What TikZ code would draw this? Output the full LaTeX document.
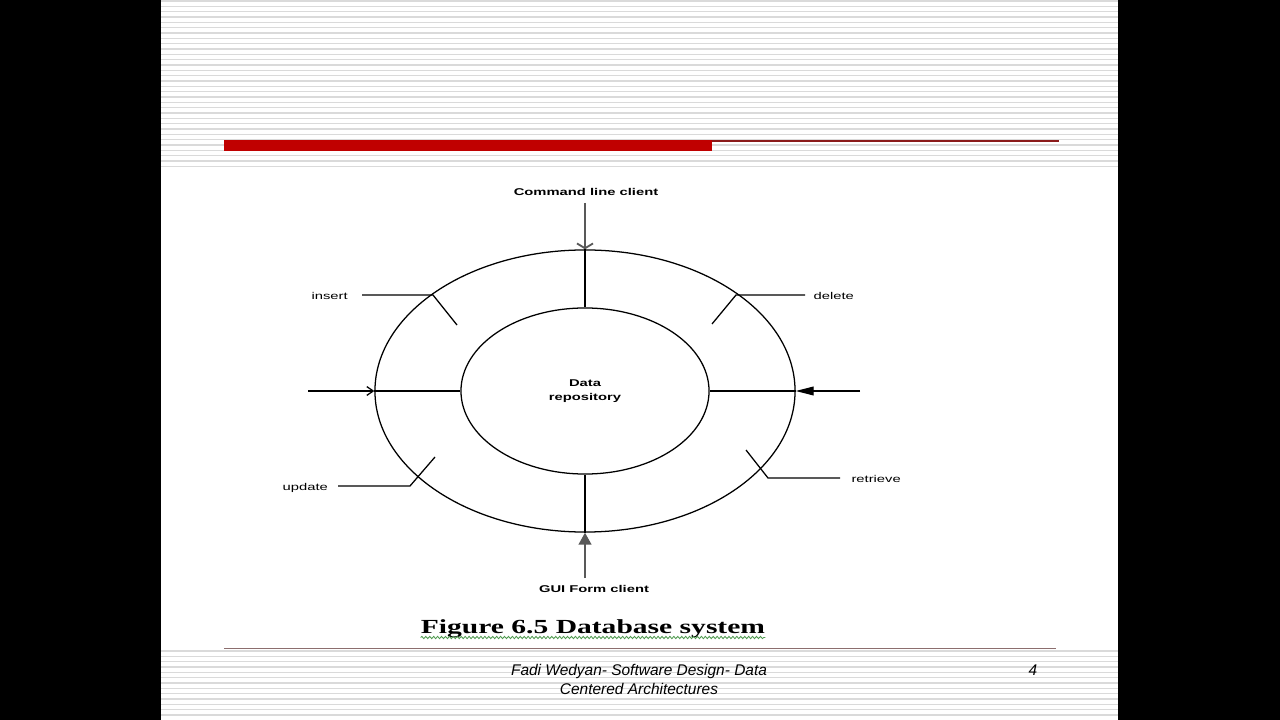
\documentclass[tikz,border=0pt]{standalone}
\usepackage{fontspec}
\setmainfont{Liberation Sans}
\newfontfamily\diagfont[FakeStretch=1.5]{Liberation Sans}
\newfontfamily\capfont[FakeStretch=1.48]{Liberation Serif}
\definecolor{slidered}{HTML}{C00000}
\definecolor{rulered}{HTML}{8B1A1A}
\definecolor{stripe}{HTML}{DADADA}
\definecolor{footrule}{HTML}{8C6E6E}
\definecolor{squiggle}{HTML}{4F9A4F}
\usetikzlibrary{shapes.geometric, arrows.meta, decorations.pathmorphing}
\tikzset{ring/.style={draw, ellipse, line width=0.9pt, inner sep=0pt}}
\tikzset{line/.style={line width=0.9pt, black}}
\tikzset{feed/.style={line width=1.3pt, black!65}}
\tikzset{lbl/.style={font=\diagfont\fontsize{7}{8}\selectfont, inner xsep=6pt, inner ysep=0pt, text height=1.5ex, text depth=.25ex}}
\tikzset{client/.style={font=\diagfont\bfseries\fontsize{7}{8}\selectfont, inner sep=5pt}}

\begin{document}
\begin{tikzpicture}[x=0.025cm, y=-0.025cm]
		\useasboundingbox (0,0) rectangle (1280,720);
		\fill[black] (0,0) rectangle (1280,720);
		\fill[white] (161,0) rectangle (1118,720);
		% slide stripes
		\foreach \i in {0,...,31} { \draw[stripe, line width=1pt] (161,{1+5.33*\i}) -- (1118,{1+5.33*\i}); }
		\foreach \i in {0,...,13} { \draw[stripe, line width=1pt] (161,{651+5.33*\i}) -- (1118,{651+5.33*\i}); }
		\fill[slidered] (224,140) rectangle (712,151.5);
		\draw[rulered, line width=0.8pt] (712,141) -- (1059,141);
		\draw[footrule, line width=0.7pt] (224,648) -- (1056,648);

		% rings
		\node[ring, minimum width=10.5cm, minimum height=7.05cm] (outer) at (585,391) {};
		\node[ring, minimum width=6.2cm, minimum height=4.15cm, align=center, font=\diagfont\bfseries\fontsize{7}{9.6}\selectfont] (repo) at (585,391) {Data\\repository};

		\node[client, anchor=south] (cmd) at (586,203) {Command line client};
		\node[client, anchor=north] (gui) at (594,578) {GUI Form client};
		\coordinate (westin) at (308,391);
		\coordinate (eastin) at (860,391);

		\draw[feed, -{Straight Barb[length=1.2mm, width=4mm]}] (cmd.south -| outer.north) -- (outer.north);
		\draw[line] (outer.north) -- (repo.north);
		\draw[line, -{Straight Barb[length=1.6mm, width=2.2mm]}] (westin) -- (outer.west);
		\draw[line] (outer.west) -- (repo.west);
		\draw[line, -{Triangle[length=4.5mm, width=2.2mm]}] (eastin) -- (outer.east);
		\draw[line] (outer.east) -- (repo.east);
		\draw[feed, -{Triangle[length=3mm, width=3.2mm]}] (gui.north -| outer.south) -- (outer.south);
		\draw[line] (outer.south) -- (repo.south);

		% operations
		\node[lbl, anchor=east, inner xsep=10pt] (insert) at (362,295) {insert};
		\coordinate (insertJ) at (433,295);
		\coordinate (insertE) at (457,325);
		\draw[line] (insert.east) -- (insertJ) -- (insertE);
		\node[lbl, anchor=west] (delete) at (805,295) {delete};
		\coordinate (deleteJ) at (736,295);
		\coordinate (deleteE) at (712,324);
		\draw[line] (delete.west) -- (deleteJ) -- (deleteE);
		\node[lbl, anchor=east, inner xsep=7pt] (update) at (338,486) {update};
		\coordinate (updateJ) at (410,486);
		\coordinate (updateE) at (435,457);
		\draw[line] (update.east) -- (updateJ) -- (updateE);
		\node[lbl, anchor=west, inner xsep=8pt] (retrieve) at (840,478) {retrieve};
		\coordinate (retrieveJ) at (768,478);
		\coordinate (retrieveE) at (746,450);
		\draw[line] (retrieve.west) -- (retrieveJ) -- (retrieveE);

		% caption and footer
		\node[font=\capfont\bfseries\fontsize{14.2}{16}\selectfont, anchor=base, inner sep=0pt] (caption) at (593,633) {Figure 6.5 Database system};
		\draw[squiggle, line width=0.6pt, decorate, decoration={snake, amplitude=0.8pt, segment length=2.8pt}] ([yshift=-3.2pt]caption.base west) -- ([yshift=-3.2pt]caption.base east);
		\node[font=\itshape\fontsize{11}{13.5}\selectfont, align=center] (footer) at (639,679) {Fadi Wedyan- Software Design- Data\\Centered Architectures};
		\node[font=\itshape\fontsize{11}{13}\selectfont] (pagenum) at (1033,670) {4};
	\end{tikzpicture}
\end{document}
